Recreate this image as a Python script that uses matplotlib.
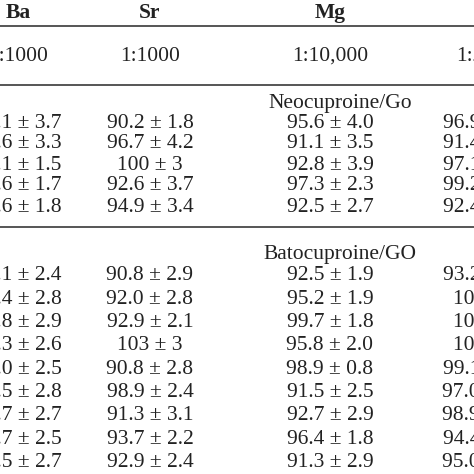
import matplotlib
matplotlib.use("Agg")
import matplotlib.pyplot as plt

headers = ["Ba", "Sr", "Mg", "Ca"]
ratios = ["1:1000", "1:1000", "1:10,000", "1:2000"]
group1 = "Neocuproine/Go"
group2 = "Batocuproine/GO"
ba1 = ["91.1 ± 3.7", "92.6 ± 3.3", "91.1 ± 1.5", "92.6 ± 1.7", "92.6 ± 1.8"]
sr1 = ["90.2 ± 1.8", "96.7 ± 4.2", "100 ± 3", "92.6 ± 3.7", "94.9 ± 3.4"]
mg1 = ["95.6 ± 4.0", "91.1 ± 3.5", "92.8 ± 3.9", "97.3 ± 2.3", "92.5 ± 2.7"]
ca1 = ["96.9 ± 2.0", "91.4 ± 2.0", "97.1 ± 2.0", "99.2 ± 2.0", "92.4 ± 2.0"]
ba2 = ["91.1 ± 2.4", "92.4 ± 2.8", "91.8 ± 2.9", "92.3 ± 2.6", "92.0 ± 2.5",
       "92.5 ± 2.8", "92.7 ± 2.7", "92.7 ± 2.5", "92.5 ± 2.7"]
sr2 = ["90.8 ± 2.9", "92.0 ± 2.8", "92.9 ± 2.1", "103 ± 3", "90.8 ± 2.8",
       "98.9 ± 2.4", "91.3 ± 3.1", "93.7 ± 2.2", "92.9 ± 2.4"]
mg2 = ["92.5 ± 1.9", "95.2 ± 1.9", "99.7 ± 1.8", "95.8 ± 2.0", "98.9 ± 0.8",
       "91.5 ± 2.5", "92.7 ± 2.9", "96.4 ± 1.8", "91.3 ± 2.9"]
ca2 = ["93.2 ± 2.0", "101 ± 2", "102 ± 2", "101 ± 2", "99.1 ± 2.0",
       "97.0 ± 2.0", "98.9 ± 2.0", "94.4 ± 2.0", "95.0 ± 2.0"]

fig = plt.figure(figsize=(4.74, 4.74), dpi=100)
ax = fig.add_axes([0, 0, 1, 1])
ax.set_xlim(0, 474); ax.set_ylim(474, 0); ax.axis("off")
font = dict(family="Liberation Serif", fontsize=15.5, color="#222222")
xs = [18, 150, 330, 486]

for x, h in zip(xs, headers):
    ax.text(x, 13, h, ha="center", va="center", fontweight="bold", **font)
for x, r in zip(xs, ratios):
    ax.text(x, 56, r, ha="center", va="center", **font)
for y in (26, 85, 227):
    ax.plot([0, 474], [y, y], color="#555555", lw=1.4)
ax.text(340, 103, group1, ha="center", va="center", **font)
ax.text(340, 254, group2, ha="center", va="center", **font)

y1 = [123, 144, 165, 186, 207]
for col, x in zip([ba1, sr1, mg1, ca1], xs):
    for y, t in zip(y1, col):
        ax.text(x, y, t, ha="center", va="center", **font)
y2 = [276 + 23.3 * i for i in range(9)]
for col, x in zip([ba2, sr2, mg2, ca2], xs):
    for y, t in zip(y2, col):
        ax.text(x, y, t, ha="center", va="center", **font)

fig.savefig("out.png", dpi=100, facecolor="white")
